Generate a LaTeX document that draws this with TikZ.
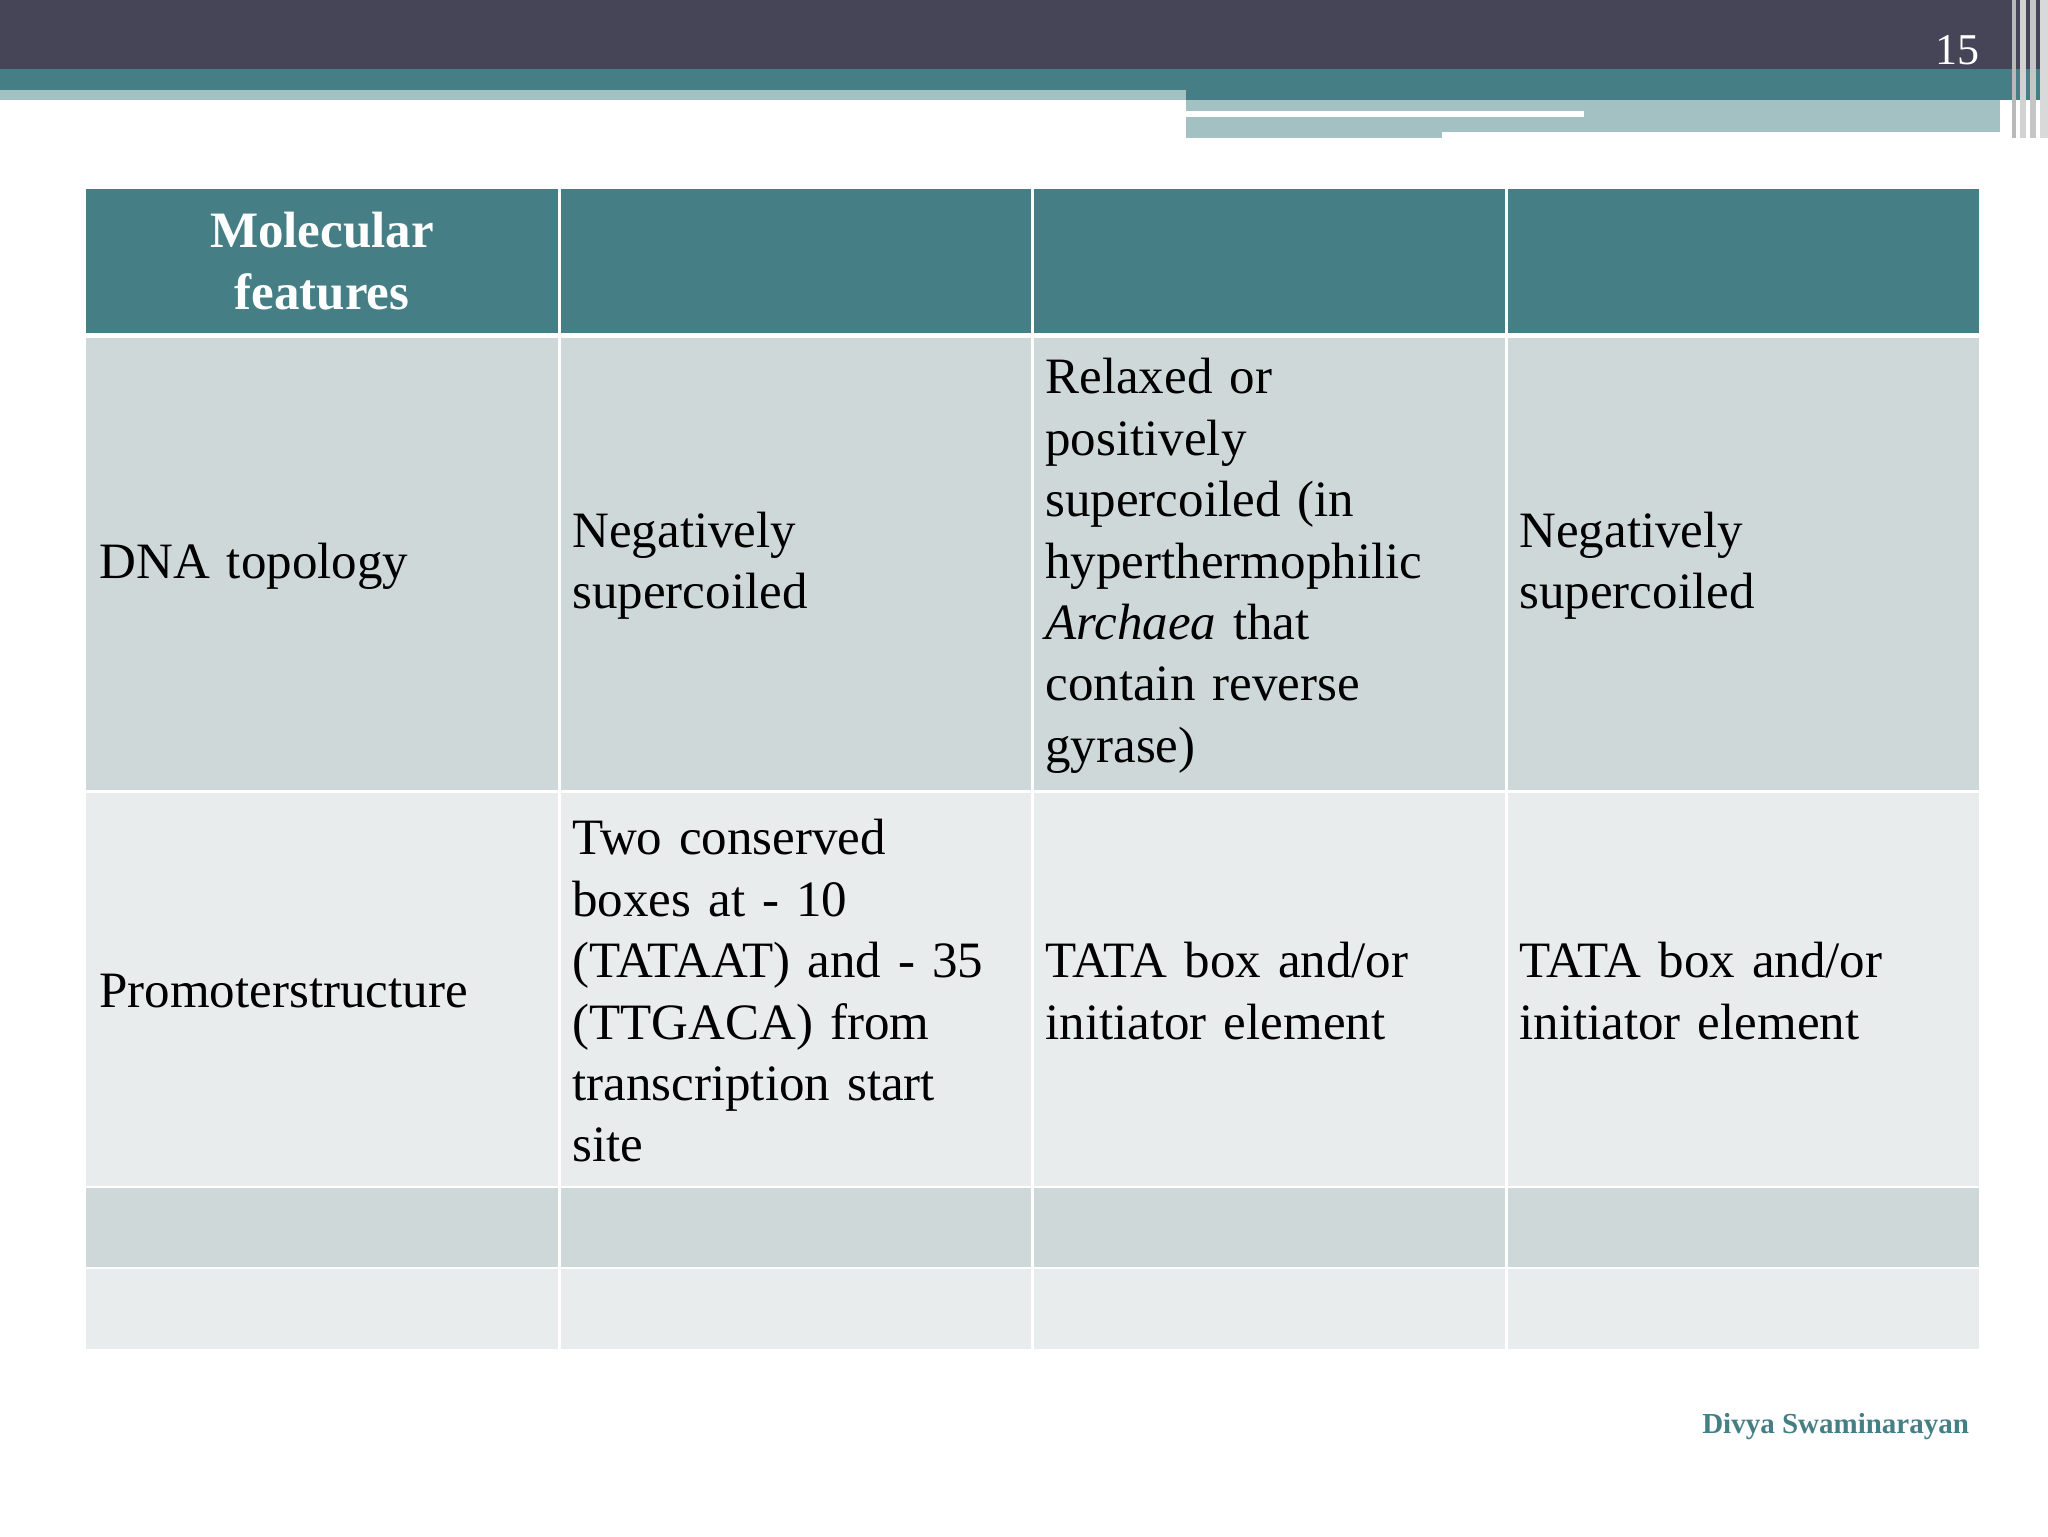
\documentclass[tikz,border=0pt]{standalone}
\usepackage{fontspec}
\setmainfont{Liberation Serif}
\definecolor{dark}{HTML}{464558}
\definecolor{teal}{HTML}{457F85}
\definecolor{lightb}{HTML}{A3C0C3}
\definecolor{rowa}{HTML}{CFD8D9}
\definecolor{rowb}{HTML}{E8ECED}
\begin{document}
\begin{tikzpicture}[x=0.5pt,y=-0.5pt,
  cell/.style={anchor=west,text width=226pt,align=left,font=\fontsize{25.5}{30.7}\selectfont,inner sep=0pt},
  hcell/.style={text width=220pt,align=center,font=\bfseries\fontsize{25.5}{30.7}\selectfont,text=white,inner sep=0pt}]
\useasboundingbox (0,0) rectangle (2048,1536);
\fill[white] (0,0) rectangle (2048,1536);
% header bars
\fill[dark] (0,0) rectangle (2048,69);
\fill[teal] (0,69) rectangle (1186,90);
\fill[lightb] (0,90) rectangle (1186,100);
\fill[teal] (1186,69) rectangle (2048,100);
\fill[lightb] (1186,100) rectangle (2000,138);
\fill[white] (1186,111) rectangle (1584,117);
\fill[white] (1442,132) rectangle (2000,140);
\foreach \x/\c in {1637/gray!60,1645/lightb,1655/gray!40,1668/lightb,1680/gray!50,1690/white,1697/gray!40,1705/lightb,1712/gray!30} {}
\fill[gray!55] (2012,0) rectangle (2016,138);
\fill[gray!35] (2020,0) rectangle (2026,138);
\fill[gray!45] (2030,0) rectangle (2036,138);
\fill[gray!30] (2040,0) rectangle (2048,138);
\node[text=white,font=\fontsize{22}{22}\selectfont] (pg) at (1957,50) {15};
% table rows
\fill[teal] (86,189) rectangle (1979,333);
\fill[rowa] (86,338) rectangle (1979,790);
\fill[rowb] (86,793) rectangle (1979,1186);
\fill[rowa] (86,1188) rectangle (1979,1267);
\fill[rowb] (86,1269) rectangle (1979,1349);
\foreach \x in {559,1032,1506} \draw[white,line width=1.5pt] (\x,189) -- (\x,1349);
% texts
\node[hcell] (h1) at (322,261) {Molecular\\features};
\node[cell] (a1) at (99,566) {DNA topology};
\node[cell] (b1) at (572,566) {Negatively\\supercoiled};
\node[cell] (c1) at (1045,566) {Relaxed or\\positively\\supercoiled (in\\hyperthermophilic\\\textit{Archaea} that\\contain reverse\\gyrase)};
\node[cell] (d1) at (1519,566) {Negatively\\supercoiled};
\node[cell] (a2) at (99,991) {Promoterstructure};
\node[cell] (b2) at (572,991) {Two conserved\\boxes at - 10\\(TATAAT) and - 35\\(TTGACA) from\\transcription start\\site};
\node[cell] (c2) at (1045,991) {TATA box and/or\\initiator element};
\node[cell] (d2) at (1519,991) {TATA box and/or\\initiator element};
\node[anchor=east,text=teal,font=\bfseries\fontsize{14.5}{14.5}\selectfont] (ft) at (1976,1427) {Divya Swaminarayan};
\end{tikzpicture}
\end{document}
